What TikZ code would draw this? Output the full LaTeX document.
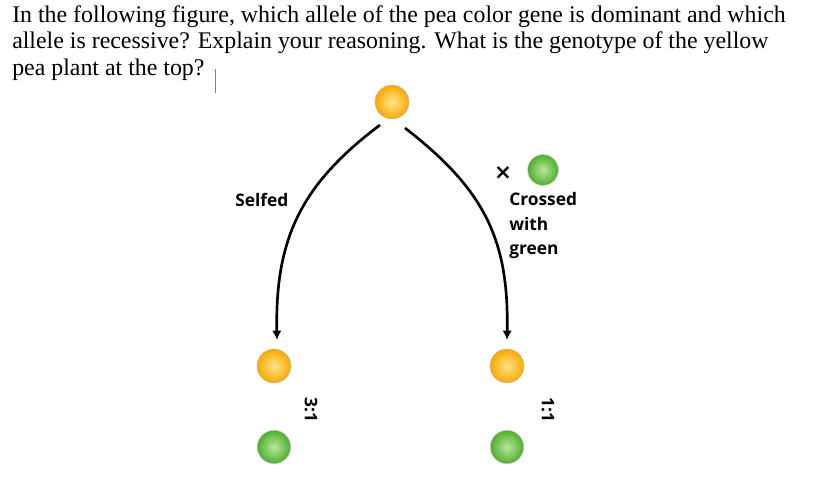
\documentclass[tikz,border=0pt]{standalone}
\usepackage{fontspec}
\setmainfont{Liberation Serif}
\newfontfamily\lab{Open Sans}
\newfontfamily\dv{DejaVu Sans}
\usetikzlibrary{arrows.meta}
\definecolor{peay}{HTML}{F9A800}
\definecolor{peayl}{HTML}{FFE48A}
\definecolor{peag}{HTML}{4FAE2E}
\definecolor{peagl}{HTML}{B8E89A}
\begin{document}
\begin{tikzpicture}[x=0.75pt,y=-0.75pt,
  yel/.style={circle,minimum size=25.5pt,inner sep=0pt,inner color=peayl,outer color=peay,draw=gray!50},
  grn/.style={circle,minimum size=25pt,inner sep=0pt,inner color=peagl,outer color=peag,draw=gray!50},
  lbl/.style={font=\lab\bfseries\fontsize{13}{18.5}\selectfont,align=left,inner sep=0pt},
  conn/.style={line width=2pt,-{Latex[length=7pt,width=7pt]}}]
\useasboundingbox (0,0) rectangle (813,498);
\node[anchor=north west,align=left,inner sep=0pt,font=\fontsize{17.9}{20.2}\selectfont] (q) at (12,5)
 {In the following figure, which allele of the pea color gene is dominant and which\\
 allele is recessive? Explain your reasoning. What is the genotype of the yellow\\
 pea plant at the top?};
\draw[gray,line width=0.6pt] (215,69) -- (215,93);
\node[yel] (top) at (392,102) {};
\node[grn,minimum size=23pt] (cg) at (543,170) {};
\node[font=\dv\bfseries\fontsize{16}{16}\selectfont] (x) at (503,173) {×};
\node[lbl,anchor=west] (self) at (235,200) {Selfed};
\node[lbl,anchor=north west] (cw) at (509,192) {Crossed\\with\\green};
\node[yel] (y1) at (274,366) {};
\node[grn] (g1) at (274,447) {};
\node[yel] (y2) at (507,366) {};
\node[grn] (g2) at (507,447) {};
\node[lbl,rotate=-90] (r1) at (311,410) {3:1};
\node[lbl,rotate=-90] (r2) at (548,410) {1:1};
\coordinate (e1) at (277,340);
\coordinate (e2) at (507,340);
\draw[conn] (380,125) .. controls (300,185) and (275,240) .. (e1);
\draw[conn] (405,128) .. controls (485,190) and (509,240) .. (e2);
\end{tikzpicture}
\end{document}
